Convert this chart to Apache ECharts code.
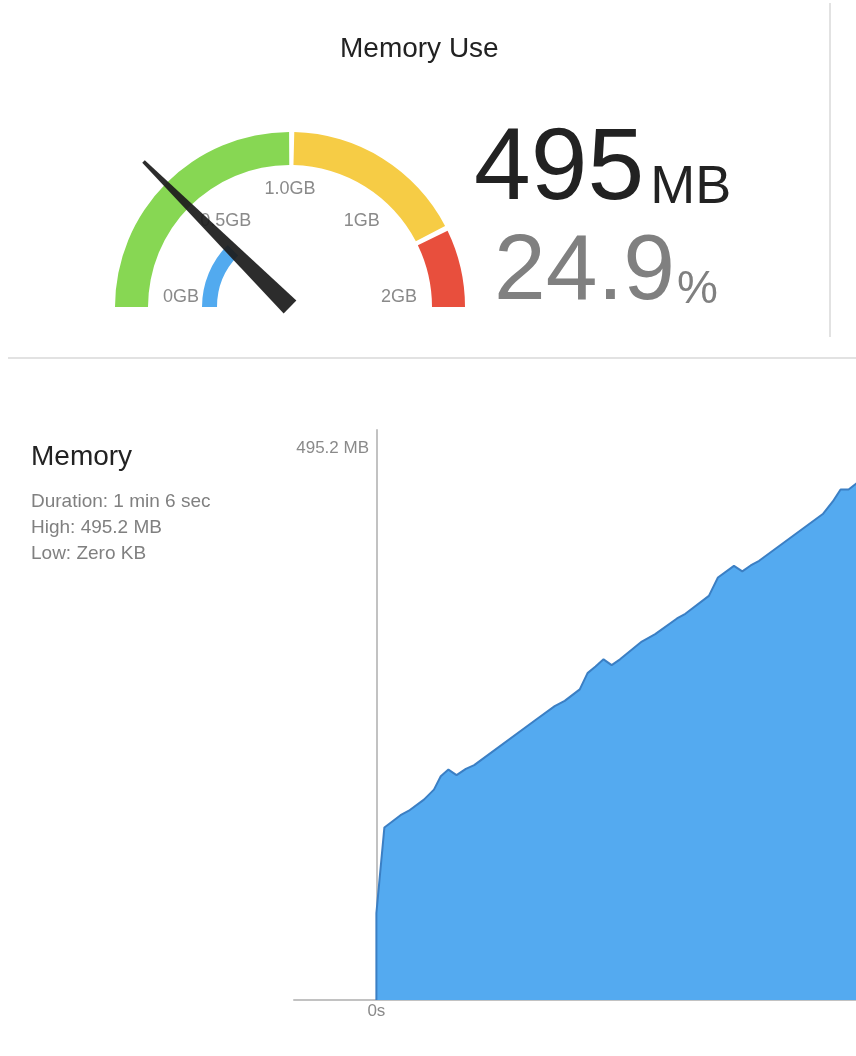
<!DOCTYPE html>
<html>
<head>
<meta charset="utf-8">
<script src="https://cdn.jsdelivr.net/npm/echarts@6/dist/echarts.min.js"></script>
<style>
html,body{margin:0;padding:0;background:#fff;}
#main{width:856px;height:1056px;}
</style>
</head>
<body>
<div id="main"></div>
<script>
// ---- Gauge data ----
var gaugeTickLabels = ['0GB', '0.5GB', '1.0GB', '1GB', '2GB'];
var memoryPercent = 24.9;
var memoryMB = 495;
var memoryUnit = 'MB';

// ---- Memory timeline data: [seconds, MB] ----
var timeSec = [0, 0, 0.68, 2.05, 2.76, 4.04, 4.89, 5.47, 6.12, 6.81, 7.60, 8.31, 13.58, 15.15, 16.0, 17.28, 17.94, 18.62, 19.3, 19.99, 20.7, 22.55, 23.69, 25.54, 26.25, 28.25, 29.02, 30.38, 31.09, 31.8, 32.52, 37.93, 38.78, 39.44, 40.12, 40.83, 41.0];
var memMB   = [0, 78, 155, 166, 170, 180, 189, 201, 207, 202, 207.6, 211, 252, 264, 268.7, 279, 293.6, 299.5, 306, 300.8, 306, 322, 328.6, 342.7, 346.9, 363, 379.5, 390, 385, 390.3, 394.5, 436.5, 447.8, 458.6, 458.6, 464.3, 465];
var yTickValues = [495.2];
var xTickValues = [0];
var summaryLines = ['Duration: 1 min 6 sec', 'High: 495.2 MB', 'Low: Zero KB'];

var font = '"Helvetica Neue", Helvetica, Arial, "Liberation Sans", sans-serif';
var chart = echarts.init(document.getElementById('main'));

var gaugeCenter = [290, 307];
function arcSeries(startAngle, endAngle, color) {
  return {
    type: 'gauge', center: gaugeCenter, radius: 175,
    startAngle: startAngle, endAngle: endAngle, min: 0, max: 1,
    silent: true, z: 1,
    axisLine: { lineStyle: { width: 33, color: [[1, color]] } },
    splitLine: { show: false }, axisTick: { show: false }, axisLabel: { show: false },
    pointer: { show: false }, anchor: { show: false }, title: { show: false }, detail: { show: false },
    data: []
  };
}

var lineData = timeSec.map(function (t, i) { return [t, memMB[i]]; });

var option = {
  animation: false,
  backgroundColor: '#fff',
  textStyle: { fontFamily: font },
  title: [
    {
      text: 'Memory Use', left: 340, top: 32, padding: 0,
      textStyle: { fontFamily: font, fontSize: 28, fontWeight: 'normal', color: '#222', lineHeight: 34 }
    },
    {
      text: '{big|' + memoryMB + '}{unit|' + memoryUnit + '}', left: 474, top: 120, padding: 0,
      textStyle: {
        fontFamily: font, fontWeight: 'normal',
        rich: {
          big: { fontFamily: font, fontWeight: 'normal', fontSize: 102, lineHeight: 102, color: '#222', verticalAlign: 'bottom' },
          unit: { fontFamily: font, fontWeight: 'normal', fontSize: 54, color: '#222', verticalAlign: 'bottom', padding: [0, 0, 7, 6] }
        }
      }
    },
    {
      text: '{big|' + memoryPercent + '}{unit|%}', left: 494, top: 227, padding: 0,
      textStyle: {
        fontFamily: font, fontWeight: 'normal',
        rich: {
          big: { fontFamily: font, fontWeight: 'normal', fontSize: 93, lineHeight: 93, color: '#808080', verticalAlign: 'bottom' },
          unit: { fontFamily: font, fontWeight: 'normal', fontSize: 46, color: '#808080', verticalAlign: 'bottom', padding: [0, 0, 7, 2] }
        }
      }
    },
    {
      text: 'Memory', subtext: summaryLines.join('\n'),
      left: 31, top: 440, padding: 0, itemGap: 15,
      textStyle: { fontFamily: font, fontSize: 28, fontWeight: 'normal', color: '#222', lineHeight: 34 },
      subtextStyle: { fontFamily: font, fontSize: 19, color: '#808080', lineHeight: 26 }
    }
  ],
  graphic: [
    { type: 'line', shape: { x1: 830, y1: 3, x2: 830, y2: 337 }, style: { stroke: '#e2e2e2', lineWidth: 2 }, silent: true },
    { type: 'line', shape: { x1: 8, y1: 358, x2: 856, y2: 358 }, style: { stroke: '#e2e2e2', lineWidth: 2 }, silent: true }
  ],
  grid: { left: 294, right: -10, top: 430, bottom: 56, containLabel: false, outerBoundsMode: 'none' },
  xAxis: {
    type: 'value', min: -7, max: 41.6,
    axisLine: { show: true, lineStyle: { color: '#c2c2c2', width: 2 } },
    axisTick: { show: false }, splitLine: { show: false },
    axisLabel: { customValues: xTickValues, formatter: '{value}s', color: '#8a8a8a', fontSize: 17, margin: 3, fontFamily: font }
  },
  yAxis: {
    type: 'value', min: 0, max: 512,
    axisLine: { show: true, onZero: true, lineStyle: { color: '#c2c2c2', width: 2 } },
    axisTick: { show: false }, splitLine: { show: false },
    axisLabel: { customValues: yTickValues, formatter: '{value} MB', color: '#8a8a8a', fontSize: 17, margin: -75, fontFamily: font }
  },
  series: [
    arcSeries(180, 90.3, '#87d753'),
    arcSeries(88.6, 27.6, '#f6cc45'),
    arcSeries(25.8, 0, '#e84f3d'),
    {
      type: 'gauge', center: gaugeCenter, radius: 88, startAngle: 180, endAngle: 0,
      min: 0, max: 100, silent: true, z: 2,
      axisLine: { lineStyle: { width: 15, color: [[1, 'rgba(0,0,0,0)']] } },
      progress: { show: true, width: 15, itemStyle: { color: '#52aaef' } },
      splitLine: { show: false }, axisTick: { show: false }, axisLabel: { show: false },
      pointer: { show: false }, anchor: { show: false }, title: { show: false }, detail: { show: false },
      data: [{ value: memoryPercent }]
    },
    {
      type: 'gauge', center: gaugeCenter, radius: 175, startAngle: 180, endAngle: 0,
      min: 0, max: 100, splitNumber: 4, silent: true, z: 3,
      axisLine: { show: false, lineStyle: { width: 0 } },
      splitLine: { show: false, length: 0, distance: 0 },
      axisTick: { show: false },
      axisLabel: {
        show: true, distance: 48, color: '#8a8a8a', fontSize: 18, fontFamily: font,
        formatter: function (v) {
          var idx = Math.round(v / 25);
          var style = (idx === 0 || idx === 4) ? 'side' : (idx === 2 ? 'top' : 'mid');
          return '{' + style + '|' + gaugeTickLabels[idx] + '}';
        },
        rich: {
          side: { fontSize: 18, color: '#8a8a8a', fontFamily: font, padding: [0, 0, 20, 0] },
          mid: { fontSize: 18, color: '#8a8a8a', fontFamily: font, padding: [8, 0, 0, 0] },
          top: { fontSize: 18, color: '#8a8a8a', fontFamily: font }
        }
      },
      pointer: {
        show: true, length: '118%', width: 18, offsetCenter: [0, 0],
        icon: 'path://M1.6,0 L2.4,0 L4,100 L0,100 Z',
        itemStyle: { color: 'rgba(28,28,28,0.93)' }
      },
      anchor: { show: false }, title: { show: false }, detail: { show: false },
      data: [{ value: memoryPercent }]
    },
    {
      type: 'line', data: lineData, symbol: 'none', smooth: false, clip: true,
      lineStyle: { color: '#3b7fc4', width: 2 },
      areaStyle: { color: '#54aaf0', opacity: 1 },
      z: 2
    }
  ]
};
chart.setOption(option);
</script>
</body>
</html>
